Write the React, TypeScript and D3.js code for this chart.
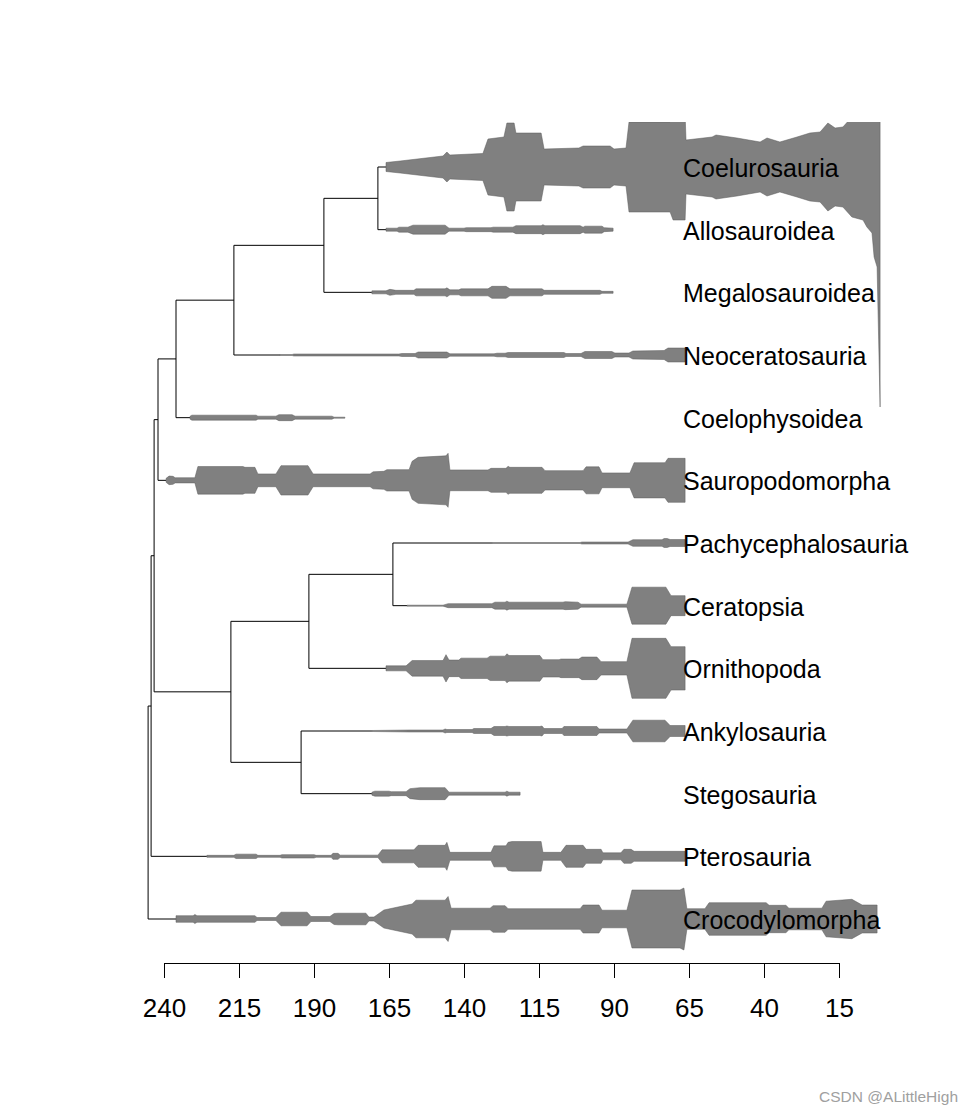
import { useEffect, useRef } from "react";
import * as d3 from "d3";

// tip order, top to bottom
const TAXA = [
  "Coelurosauria",
  "Allosauroidea",
  "Megalosauroidea",
  "Neoceratosauria",
  "Coelophysoidea",
  "Sauropodomorpha",
  "Pachycephalosauria",
  "Ceratopsia",
  "Ornithopoda",
  "Ankylosauria",
  "Stegosauria",
  "Pterosauria",
  "Crocodylomorpha",
];

const TICKS = [240, 215, 190, 165, 140, 115, 90, 65, 40, 15];

// internal nodes: [id, child a, child b, age in Ma]
const NODES: [string, string, string, number][] = [
  ["n1", "Coelurosauria", "Allosauroidea", 168.7],
  ["n2", "n1", "Megalosauroidea", 186.7],
  ["n3", "n2", "Neoceratosauria", 216.7],
  ["n4", "n3", "Coelophysoidea", 236.0],
  ["n5", "n4", "Sauropodomorpha", 242.0],
  ["n6", "Pachycephalosauria", "Ceratopsia", 163.7],
  ["n7", "n6", "Ornithopoda", 191.7],
  ["n8", "Ankylosauria", "Stegosauria", 194.3],
  ["n9", "n7", "n8", 217.7],
  ["n10", "n5", "n9", 243.3],
  ["n11", "n10", "Pterosauria", 244.3],
  ["n12", "n11", "Crocodylomorpha", 245.3],
];

// spindle outlines: [Ma, diversity]
const coelurosauria: [number, number][] = [
  [166.0, 9], [161.3, 12], [147.0, 22], [145.7, 30], [144.7, 24], [133.7, 27],
  [132.0, 56], [126.7, 60], [125.7, 88], [123.3, 88], [122.7, 68], [114.3, 68],
  [113.3, 36], [101.7, 38], [100.3, 42], [91.3, 42], [90.0, 36], [86.0, 38],
  [85.0, 90], [71.3, 90], [70.3, 106], [66.3, 106], [66.0, 54], [57.3, 60],
  [56.0, 64], [49.0, 58], [41.3, 50], [39.0, 58], [34.7, 50], [29.0, 60],
  [24.7, 68], [21.3, 70], [18.7, 88], [16.3, 78], [13.7, 80], [10.7, 100],
  [7.0, 106], [5.7, 120], [4.0, 132], [3.3, 180], [2.3, 200], [2.0, 286],
  [1.3, 480],
];
const allosauroidea: [number, number][] = [
  [166.0, 3], [162.3, 3], [161.7, 5], [158.7, 5], [157.0, 9], [146.3, 9],
  [145.0, 3], [140.0, 3], [139.3, 4], [131.0, 4], [130.3, 5], [123.7, 5],
  [122.7, 8], [114.3, 8], [113.7, 10], [113.0, 8], [101.3, 8], [100.3, 5],
  [99.7, 7], [94.0, 7], [93.3, 4], [90.3, 3],
];
const megalosauroidea: [number, number][] = [
  [170.7, 3], [166.0, 3], [164.7, 6], [162.7, 4], [156.7, 4], [156.0, 7],
  [146.3, 7], [145.7, 9], [144.7, 5], [141.7, 5], [141.0, 7], [132.0, 7],
  [130.7, 12], [126.0, 12], [124.7, 7], [114.0, 7], [113.3, 4], [94.7, 4],
  [94.0, 2], [90.3, 2],
];
const neoceratosauria: [number, number][] = [
  [201.3, 1], [197.3, 1], [196.7, 2], [161.7, 2], [160.7, 3], [156.3, 3],
  [155.3, 6], [145.7, 6], [144.7, 2.4], [130.0, 2.4], [129.0, 3.6], [126.3, 3.6],
  [125.3, 5], [106.7, 5], [106.0, 3], [101.0, 3], [99.7, 7], [90.7, 7],
  [89.7, 4], [85.0, 4], [83.7, 8], [73.3, 9], [72.0, 14], [66.3, 14],
];
const coelophysoidea: [number, number][] = [
  [231.3, 3], [230.7, 5], [209.3, 5], [208.7, 3], [202.7, 3], [201.7, 6],
  [197.3, 6], [196.3, 3], [184.0, 3], [183.3, 1], [179.7, 1],
];
const sauropodomorpha: [number, number][] = [
  [239.3, 4], [238.3, 8.6], [237.0, 8], [236.3, 5.2], [229.7, 5.2], [228.7, 27.6],
  [213.7, 27.6], [213.0, 26], [209.7, 26], [208.7, 12.8], [202.7, 12.8],
  [201.0, 29.4], [192.0, 29.4], [190.3, 12.8], [171.3, 12.8], [170.3, 17],
  [166.7, 18], [165.7, 21.4], [158.3, 21.4], [157.3, 38], [155.3, 46],
  [146.0, 49], [145.3, 54], [144.7, 20.8], [132.0, 20.8], [131.0, 24],
  [126.0, 24], [125.3, 28], [124.7, 26], [114.0, 26], [113.0, 19.4],
  [100.3, 19.4], [99.3, 27], [95.0, 27], [94.0, 14.8], [84.7, 14.8],
  [83.3, 35.2], [73.0, 35.2], [72.0, 44], [66.3, 44],
];
const pachycephalosauria: [number, number][] = [
  [130.7, 1], [101.3, 1], [100.7, 2], [85.3, 2], [83.7, 6.6], [74.0, 6.6],
  [73.3, 9], [72.3, 9], [71.3, 7], [66.3, 7],
];
const ceratopsia: [number, number][] = [
  [159.0, 1], [147.0, 1], [145.3, 4], [130.7, 4], [129.7, 7], [126.3, 7],
  [125.7, 9], [125.0, 7], [107.0, 7], [106.3, 8], [102.0, 7], [101.0, 3],
  [85.7, 3], [84.0, 37], [72.7, 37], [71.0, 20], [66.3, 20],
];
const ornithopoda: [number, number][] = [
  [166.0, 5], [159.3, 5], [157.3, 15.6], [147.0, 15.6], [146.0, 27.4],
  [145.0, 16.6], [141.7, 16.6], [141.0, 20.4], [132.3, 20.4], [131.3, 24.4],
  [126.3, 24.4], [125.7, 29], [125.0, 25.6], [114.7, 25.6], [113.7, 17.4],
  [108.3, 17.4], [107.7, 18.6], [101.7, 18.6], [100.7, 22.6], [95.7, 22.6],
  [94.3, 13.4], [85.7, 13.4], [84.0, 60], [72.7, 60], [71.0, 43.4], [66.3, 43.4],
];
const ankylosauria: [number, number][] = [
  [170.7, 1], [158.0, 2], [147.0, 2], [146.3, 4], [145.7, 3], [137.3, 3],
  [136.7, 5], [131.0, 5], [130.0, 9], [126.3, 9], [125.7, 10], [125.0, 9],
  [114.7, 9], [114.0, 10], [113.3, 5], [107.3, 5], [106.7, 9], [95.7, 9],
  [95.0, 4], [85.7, 4], [83.7, 21.6], [73.0, 21.6], [71.3, 11], [66.3, 11],
];
const stegosauria: [number, number][] = [
  [170.7, 3], [169.7, 5], [165.0, 5], [164.3, 4], [159.3, 4], [158.0, 10],
  [154.7, 12], [146.3, 12], [145.0, 3], [126.3, 3], [125.7, 5], [125.0, 3],
  [121.3, 3],
];
const pterosauria: [number, number][] = [
  [225.7, 2], [216.7, 2], [216.0, 4.4], [209.3, 4.4], [208.7, 2], [201.3, 2],
  [200.7, 3.4], [190.0, 3.4], [189.3, 2], [184.3, 2], [183.7, 6], [182.0, 6],
  [181.3, 2.4], [168.7, 2.4], [167.3, 13], [156.7, 13], [155.3, 22], [146.3, 22],
  [145.7, 28], [144.7, 8], [131.0, 8], [130.0, 21], [126.0, 21], [125.3, 28],
  [124.0, 29.6], [114.3, 29.6], [113.7, 8], [107.7, 8], [106.0, 22], [100.3, 22],
  [99.3, 14], [94.3, 14], [93.7, 7], [87.7, 7], [86.7, 14], [84.3, 14],
  [83.3, 10], [66.3, 10],
];
const crocodylomorpha: [number, number][] = [
  [236.0, 6.6], [230.3, 6.6], [229.7, 9], [229.0, 6.6], [209.7, 6.6], [209.0, 3],
  [202.7, 3], [201.0, 13.6], [192.3, 13.6], [191.0, 5], [184.7, 5], [183.3, 11],
  [182.0, 11.6], [172.7, 11.6], [171.7, 4], [170.0, 4], [166.7, 18], [157.3, 30],
  [156.0, 37.6], [146.3, 37.6], [145.3, 45], [144.3, 21.6], [131.3, 21.6],
  [130.3, 26.6], [126.3, 26.6], [125.3, 20.6], [101.3, 20.6], [100.3, 28],
  [95.0, 28], [94.0, 17.6], [85.7, 17.6], [84.0, 58], [68.0, 58], [66.7, 62],
  [65.7, 20.6], [59.7, 20.6], [58.3, 32.6], [39.3, 32.6], [38.3, 27.4],
  [32.7, 27.4], [31.7, 21.6], [20.7, 21.6], [19.3, 35.6], [10.7, 39.4],
  [7.3, 28], [2.3, 28],
];

const SPINDLES: Record<string, [number, number][]> = {
  Coelurosauria: coelurosauria,
  Allosauroidea: allosauroidea,
  Megalosauroidea: megalosauroidea,
  Neoceratosauria: neoceratosauria,
  Coelophysoidea: coelophysoidea,
  Sauropodomorpha: sauropodomorpha,
  Pachycephalosauria: pachycephalosauria,
  Ceratopsia: ceratopsia,
  Ornithopoda: ornithopoda,
  Ankylosauria: ankylosauria,
  Stegosauria: stegosauria,
  Pterosauria: pterosauria,
  Crocodylomorpha: crocodylomorpha,
};

const FONT = "'Liberation Sans', Arial, Helvetica, sans-serif";

export default function App() {
  const svgRef = useRef<SVGSVGElement>(null);

  useEffect(() => {
    if (!svgRef.current) return;
    const svg = d3.select(svgRef.current);
    svg.selectAll("*").remove();

    const width = 973;
    const height = 1116;
    svg.attr("width", width).attr("height", height);

    const x = d3.scaleLinear().domain([240, 15]).range([164, 839]);
    const y = d3.scaleLinear().domain([0, TAXA.length - 1]).range([167, 919]);
    const w = d3.scaleLinear().domain([0, 100]).range([0, 50]);

    // plot region clip (spindles run off the top)
    svg
      .append("defs")
      .append("clipPath")
      .attr("id", "plotclip")
      .append("rect")
      .attr("x", 0)
      .attr("y", 122)
      .attr("width", width)
      .attr("height", 840);

    // node positions
    const posY: Record<string, number> = {};
    const posAge: Record<string, number> = {};
    TAXA.forEach((t, i) => {
      posY[t] = y(i);
      posAge[t] = SPINDLES[t][0][0];
    });
    NODES.forEach(([id, a, b, age]) => {
      posY[id] = (posY[a] + posY[b]) / 2;
      posAge[id] = age;
    });

    const tree = svg.append("g").attr("stroke", "#000").attr("stroke-width", 1);
    NODES.forEach(([, a, b, age]) => {
      const nx = x(age);
      tree
        .append("line")
        .attr("x1", nx)
        .attr("x2", nx)
        .attr("y1", posY[a])
        .attr("y2", posY[b]);
      [a, b].forEach((c) => {
        tree
          .append("line")
          .attr("x1", nx)
          .attr("x2", x(posAge[c]))
          .attr("y1", posY[c])
          .attr("y2", posY[c]);
      });
    });

    // spindles
    const sp = svg.append("g").attr("clip-path", "url(#plotclip)");
    TAXA.forEach((t, i) => {
      const cy = y(i);
      const area = d3
        .area<[number, number]>()
        .x((d) => x(d[0]))
        .y0((d) => cy - w(d[1]))
        .y1((d) => cy + w(d[1]));
      sp.append("path")
        .attr("d", area(SPINDLES[t]) ?? "")
        .attr("fill", "#808080")
        .attr("stroke", "#5a5a5a")
        .attr("stroke-width", 0.5);
    });

    // tip labels
    svg
      .append("g")
      .selectAll("text")
      .data(TAXA)
      .join("text")
      .attr("x", x(66) - 3)
      .attr("y", (_, i) => y(i) + 1)
      .attr("dominant-baseline", "central")
      .style("font-family", FONT)
      .style("font-size", "25px")
      .style("fill", "#000")
      .text((d) => d);

    // time axis
    const ax = svg
      .append("g")
      .attr("transform", "translate(0,963)")
      .call(d3.axisBottom(x).tickValues(TICKS).tickSize(15).tickSizeOuter(0));
    ax.select(".domain").attr("stroke", "#000");
    ax.selectAll(".tick line").attr("stroke", "#000");
    ax.selectAll(".tick text")
      .attr("y", 45)
      .attr("dy", 0)
      .attr("dominant-baseline", "central")
      .style("font-family", FONT)
      .style("font-size", "26px")
      .style("fill", "#000");

    svg
      .append("text")
      .attr("x", 958)
      .attr("y", 1102)
      .attr("text-anchor", "end")
      .style("font-family", FONT)
      .style("font-size", "15.5px")
      .style("fill", "#a0a0a0")
      .text("CSDN @ALittleHigh");

    return () => {
      svg.selectAll("*").remove();
    };
  }, []);

  return (
    <svg
      ref={svgRef}
      style={{ position: "absolute", left: 0, top: 0, background: "#fff" }}
    />
  );
}
